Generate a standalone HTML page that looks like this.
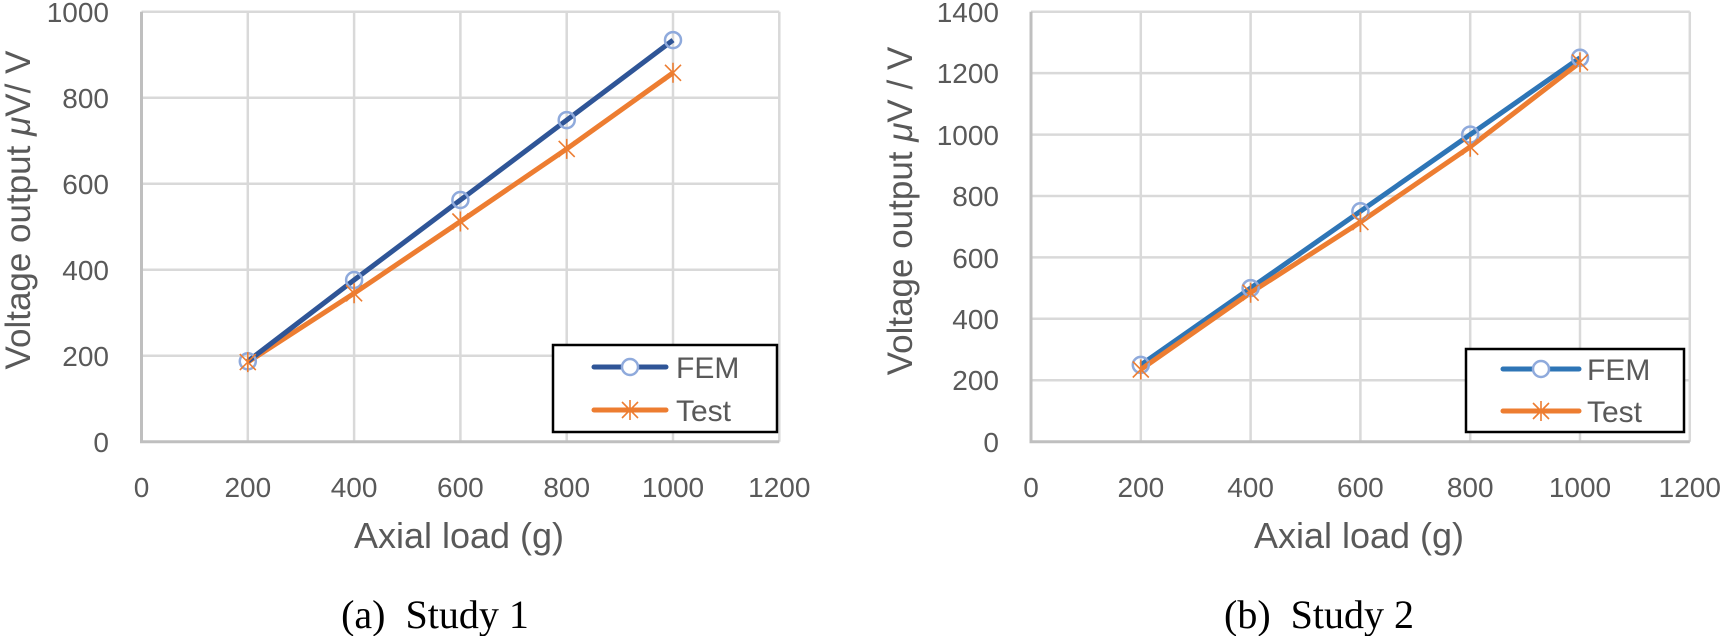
<!DOCTYPE html>
<html><head><meta charset="utf-8"><style>
html,body{margin:0;padding:0;background:#fff;}
svg{display:block;}
.t{font-family:"Liberation Sans",sans-serif;fill:#595959;}
.c{font-family:"Liberation Serif",serif;fill:#000;}
</style></head><body>
<svg width="1720" height="636" viewBox="0 0 1720 636" xmlns="http://www.w3.org/2000/svg">
<defs>
<g id="star"><path d="M-8,-8L8,8M8,-8L-8,8M0,-10L0,10" stroke="#ed7d31" stroke-width="1.6" fill="none"/></g>
</defs>
<!-- LEFT CHART -->
<g stroke="#d9d9d9" stroke-width="2.5" fill="none">
<path d="M247.8,11.7V441.7M354.1,11.7V441.7M460.4,11.7V441.7M566.7,11.7V441.7M673,11.7V441.7M779.3,11.7V441.7"/>
<path d="M141.5,11.7H779.3M141.5,97.7H779.3M141.5,183.7H779.3M141.5,269.7H779.3M141.5,355.7H779.3"/>
</g>
<path d="M141.5,11.7V441.7H779.3" stroke="#bfbfbf" stroke-width="3" fill="none"/>
<g class="t" font-size="28" text-anchor="end">
<text x="109" y="452">0</text><text x="109" y="366">200</text><text x="109" y="280">400</text>
<text x="109" y="194">600</text><text x="109" y="108">800</text><text x="109" y="22">1000</text>
</g>
<g class="t" font-size="28" text-anchor="middle">
<text x="141.5" y="497">0</text><text x="247.8" y="497">200</text><text x="354.1" y="497">400</text>
<text x="460.4" y="497">600</text><text x="566.7" y="497">800</text><text x="673" y="497">1000</text><text x="779.3" y="497">1200</text>
</g>
<text class="t" font-size="36" text-anchor="middle" x="459" y="548">Axial load (g)</text>
<text class="t" font-size="35" text-anchor="middle" transform="translate(30,210) rotate(-90)">Voltage output <tspan font-style="italic">μ</tspan>V/ V</text>
<polyline points="247.8,362.1 354.1,293.3 460.4,221.5 566.7,148.9 673,72.8" stroke="#ed7d31" stroke-width="5" fill="none" stroke-linejoin="round"/>
<polyline points="247.8,361.3 354.1,280 460.4,200 566.7,120.1 673,40.1" stroke="#2f5597" stroke-width="5" fill="none" stroke-linejoin="round"/>
<g fill="none" stroke="#8faadc" stroke-width="2.5">
<circle cx="247.8" cy="361.3" r="8"/><circle cx="354.1" cy="280" r="8"/><circle cx="460.4" cy="200" r="8"/><circle cx="566.7" cy="120.1" r="8"/><circle cx="673" cy="40.1" r="8"/>
</g>
<use href="#star" x="247.8" y="362.1"/><use href="#star" x="354.1" y="293.3"/><use href="#star" x="460.4" y="221.5"/><use href="#star" x="566.7" y="148.9"/><use href="#star" x="673" y="72.8"/>
<rect x="553" y="345" width="224" height="87" fill="#fff" stroke="#000" stroke-width="2.5"/>
<path d="M594,367H666" stroke="#2f5597" stroke-width="5" stroke-linecap="round"/>
<circle cx="630" cy="367" r="8" fill="#fff" stroke="#8faadc" stroke-width="2.5"/>
<path d="M594,410H666" stroke="#ed7d31" stroke-width="5" stroke-linecap="round"/>
<use href="#star" x="630" y="410"/>
<text class="t" font-size="30" x="676" y="378">FEM</text>
<text class="t" font-size="30" x="676" y="421">Test</text>
<text class="c" font-size="40" text-anchor="middle" x="435" y="628">(a)&#160; Study 1</text>

<!-- RIGHT CHART -->
<g stroke="#d9d9d9" stroke-width="2.5" fill="none">
<path d="M1140.8,11.7V441.7M1250.6,11.7V441.7M1360.4,11.7V441.7M1470.2,11.7V441.7M1580,11.7V441.7M1689.8,11.7V441.7"/>
<path d="M1031,11.7H1689.8M1031,73.1H1689.8M1031,134.6H1689.8M1031,196H1689.8M1031,257.4H1689.8M1031,318.8H1689.8M1031,380.3H1689.8"/>
</g>
<path d="M1031,11.7V441.7H1689.8" stroke="#bfbfbf" stroke-width="3" fill="none"/>
<g class="t" font-size="28" text-anchor="end">
<text x="999" y="452">0</text><text x="999" y="390">200</text><text x="999" y="329">400</text>
<text x="999" y="268">600</text><text x="999" y="206">800</text><text x="999" y="145">1000</text>
<text x="999" y="83">1200</text><text x="999" y="22">1400</text>
</g>
<g class="t" font-size="28" text-anchor="middle">
<text x="1031" y="497">0</text><text x="1140.8" y="497">200</text><text x="1250.6" y="497">400</text>
<text x="1360.4" y="497">600</text><text x="1470.2" y="497">800</text><text x="1580" y="497">1000</text><text x="1689.8" y="497">1200</text>
</g>
<text class="t" font-size="36" text-anchor="middle" x="1359" y="548">Axial load (g)</text>
<text class="t" font-size="35" text-anchor="middle" transform="translate(912,211) rotate(-90)">Voltage output <tspan font-style="italic">μ</tspan>V / V</text>
<polyline points="1140.8,364.9 1250.6,288.1 1360.4,211.3 1470.2,134.6 1580,57.8" stroke="#2e75b6" stroke-width="5" fill="none" stroke-linejoin="round"/>
<polyline points="1140.8,369.5 1250.6,292.7 1360.4,222.1 1470.2,146.8 1580,62.4" stroke="#ed7d31" stroke-width="5" fill="none" stroke-linejoin="round"/>
<g fill="none" stroke="#8faadc" stroke-width="2.5">
<circle cx="1140.8" cy="364.9" r="8"/><circle cx="1250.6" cy="288.1" r="8"/><circle cx="1360.4" cy="211.3" r="8"/><circle cx="1470.2" cy="134.6" r="8"/><circle cx="1580" cy="57.8" r="8"/>
</g>
<use href="#star" x="1140.8" y="369.5"/><use href="#star" x="1250.6" y="292.7"/><use href="#star" x="1360.4" y="222.1"/><use href="#star" x="1470.2" y="146.8"/><use href="#star" x="1580" y="62.4"/>
<rect x="1466" y="349" width="218" height="83" fill="#fff" stroke="#000" stroke-width="2.5"/>
<path d="M1503,369H1579" stroke="#2e75b6" stroke-width="5" stroke-linecap="round"/>
<circle cx="1541" cy="369" r="8" fill="#fff" stroke="#8faadc" stroke-width="2.5"/>
<path d="M1503,411H1579" stroke="#ed7d31" stroke-width="5" stroke-linecap="round"/>
<use href="#star" x="1541" y="411"/>
<text class="t" font-size="30" x="1587" y="380">FEM</text>
<text class="t" font-size="30" x="1587" y="422">Test</text>
<text class="c" font-size="40" text-anchor="middle" x="1319" y="628">(b)&#160; Study 2</text>
</svg>
</body></html>
